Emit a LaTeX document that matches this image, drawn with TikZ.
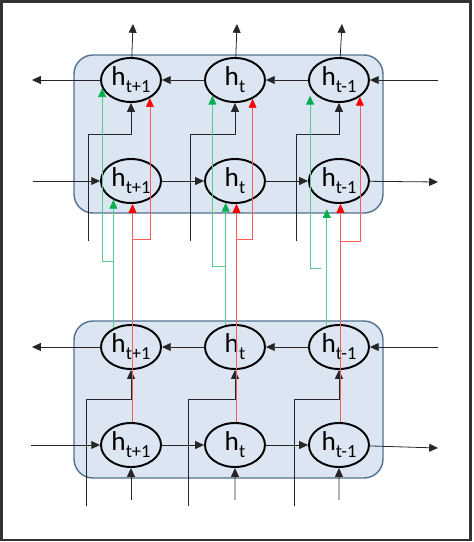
\documentclass[tikz,border=0pt]{standalone}
\usepackage{fontspec}
\setmainfont{Carlito}
\usetikzlibrary{shapes.geometric, arrows.meta, positioning}

\definecolor{layerfill}{HTML}{DCE6F2}
\definecolor{layeredge}{HTML}{52708F}
\definecolor{gpath}{HTML}{00B050}
\definecolor{rpath}{HTML}{FF0000}

\newcommand{\hsub}[1]{h\raisebox{-0.25em}{\fontsize{10.5}{12}\selectfont #1}}

\tikzset{
    cell/.style={ellipse, draw=black, line width=1.1pt, minimum width=1.2cm, minimum height=0.88cm, inner sep=0pt, font=\fontsize{15.5}{18}\selectfont},
    layer/.style={draw=layeredge, fill=layerfill, line width=0.8pt, rounded corners=0.38cm},
    frame/.style={draw=black!80, line width=1.4pt},
    arrow/.style={draw=black!85, line width=0.45pt, ->, >={Triangle[length=5pt, width=4.5pt]}},
    garrow/.style={draw=gpath!65, line width=0.4pt, -{Triangle[length=5pt, width=4.5pt, color=gpath]}},
    rarrow/.style={draw=rpath!65, line width=0.4pt, -{Triangle[length=5pt, width=4.5pt, color=rpath]}}
}

\begin{document}
\begin{tikzpicture}[x=0.02cm, y=-0.02cm, node distance=2.08cm]

    \useasboundingbox (0,0) rectangle (474,542);
    \draw [frame] (1.5,1.5) rectangle (470.5,540);

    % Layers
    \draw [layer] (74,55) rectangle (383,213);
    \draw [layer] (74,321) rectangle (383,478);

    % Nodes
    \node (bwd2a) [cell] at (131,80) {\hsub{t+1}};
    \node (bwd2b) [cell, right of=bwd2a] {\hsub{t}};
    \node (bwd2c) [cell, right of=bwd2b] {\hsub{t-1}};
    \node (fwd2a) [cell] at (131,181) {\hsub{t+1}};
    \node (fwd2b) [cell, right of=fwd2a] {\hsub{t}};
    \node (fwd2c) [cell, right of=fwd2b] {\hsub{t-1}};
    \node (bwd1a) [cell] at (131,347) {\hsub{t+1}};
    \node (bwd1b) [cell, right of=bwd1a] {\hsub{t}};
    \node (bwd1c) [cell, right of=bwd1b] {\hsub{t-1}};
    \node (fwd1a) [cell] at (131,445) {\hsub{t+1}};
    \node (fwd1b) [cell, right of=fwd1a] {\hsub{t}};
    \node (fwd1c) [cell, right of=fwd1b] {\hsub{t-1}};

    % Free ends
    \coordinate (out2a) at (133,24);
    \coordinate (out2b) at (237,24);
    \coordinate (out2c) at (342,24);
    \coordinate (inR2) at (438,80);
    \coordinate (outL2) at (32,80);
    \coordinate (inL2) at (33,181);
    \coordinate (outR2) at (438,182);
    \coordinate (inR1) at (438,347);
    \coordinate (outL1) at (32,347);
    \coordinate (inL1) at (31,445);
    \coordinate (outR1) at (438,448);
    \coordinate (feed2a) at (88,241);
    \coordinate (feed2b) at (190,241);
    \coordinate (feed2c) at (296,241);
    \coordinate (feed1a) at (86,506);
    \coordinate (feed1b) at (188,506);
    \coordinate (feed1c) at (294,506);
    \coordinate (x1a) at (131,500);
    \coordinate (x1b) at (235,500);
    \coordinate (x1c) at (339,500);

    % Arrows upper layer
    \draw [arrow] (inR2) -- (bwd2c);
    \draw [arrow] (bwd2c) -- (bwd2b);
    \draw [arrow] (bwd2b) -- (bwd2a);
    \draw [arrow] (bwd2a) -- (outL2);
    \draw [arrow] (bwd2a) -- (out2a);
    \draw [arrow] (bwd2b) -- (out2b);
    \draw [arrow] (bwd2c) -- (out2c);
    \draw [arrow] (inL2) -- (fwd2a);
    \draw [arrow] (fwd2a) -- (fwd2b);
    \draw [arrow] (fwd2b) -- (fwd2c);
    \draw [arrow] (fwd2c) -- (outR2);
    \draw [arrow] (feed2a) -- ++(0,-107) -| (bwd2a.south);
    \draw [arrow] (feed2b) -- ++(0,-107) -| (bwd2b.south);
    \draw [arrow] (feed2c) -- ++(0,-107) -| (bwd2c.south);

    % Arrows lower layer
    \draw [arrow] (inR1) -- (bwd1c);
    \draw [arrow] (bwd1c) -- (bwd1b);
    \draw [arrow] (bwd1b) -- (bwd1a);
    \draw [arrow] (bwd1a) -- (outL1);
    \draw [arrow] (inL1) -- (fwd1a);
    \draw [arrow] (fwd1a) -- (fwd1b);
    \draw [arrow] (fwd1b) -- (fwd1c);
    \draw [arrow] (fwd1c) -- (outR1);
    \draw [arrow] (feed1a) -- ++(0,-107) -| (bwd1a.south);
    \draw [arrow] (feed1b) -- ++(0,-107) -| (bwd1b.south);
    \draw [arrow] (feed1c) -- ++(0,-107) -| (bwd1c.south);
    \draw [arrow] (x1a) -- (fwd1a);
    \draw [arrow] (x1b) -- (fwd1b);
    \draw [arrow] (x1c) -- (fwd1c);

    % Links between layers
    \draw [garrow] (bwd1a.133) -- (fwd2a.227);
    \draw [garrow] (bwd1a.133 |- 0,261) -| (bwd2a.196);
    \draw [rarrow] ([xshift=0.03cm]fwd1a.north) -- ([xshift=0.03cm]fwd2a.south);
    \draw [rarrow] ([xshift=0.03cm]fwd1a.north |- 0,239) -| (bwd2a.-44);

    \draw [garrow] (bwd1b.113) -- (fwd2b.247);
    \draw [garrow] (bwd1b.113 |- 0,266) -| (bwd2b.215);
    \draw [rarrow] ([xshift=0.03cm]fwd1b.north) -- ([xshift=0.03cm]fwd2b.south);
    \draw [rarrow] ([xshift=0.03cm]fwd1b.north |- 0,239) -| (bwd2b.-47);

    \draw [garrow, shorten >=0.14cm] (bwd1c.120) -- (fwd2c.240);
    \draw [garrow, shorten >=0.15cm] ([xshift=-0.11cm]bwd1c.120 |- 0,268) -| (bwd2c.196);
    \draw [rarrow] ([xshift=0.03cm]fwd1c.north) -- ([xshift=0.03cm]fwd2c.south);
    \draw [rarrow] ([xshift=0.03cm]fwd1c.north |- 0,241) -| (bwd2c.-39);

\end{tikzpicture}
\end{document}
